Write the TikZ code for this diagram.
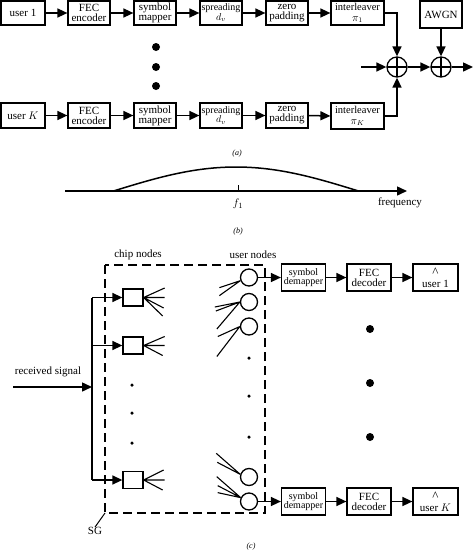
\documentclass[tikz,border=0pt]{standalone}
\usepackage{fontspec}
\setmainfont{Liberation Serif}
\usetikzlibrary{arrows.meta,calc}

\begin{document}
\begin{tikzpicture}[x=1pt,y=-1pt,
        blk/.style={draw,line width=1.2pt,inner sep=0pt,minimum width=42pt,minimum height=24pt,align=center,font=\fontsize{11}{10}\selectfont},
        sblk/.style={blk,font=\fontsize{10}{9.5}\selectfont},
        iblk/.style={blk,font=\fontsize{10.5}{11}\selectfont,minimum width=53pt},
        hblk/.style={blk,font=\fontsize{11}{11}\selectfont,minimum width=45pt,minimum height=27pt},
        wire/.style={line width=1.5pt,-{Triangle[length=10pt,width=9pt]}},
        plainwire/.style={line width=1.5pt},
        fanline/.style={line width=1.1pt},
        adder/.style={circle,draw,line width=1.3pt,minimum size=20pt,inner sep=0pt,
            path picture={\draw[line width=1.1pt] (path picture bounding box.north) -- (path picture bounding box.south)
                (path picture bounding box.west) -- (path picture bounding box.east);}},
        bigdot/.style={circle,fill,inner sep=0pt,minimum size=8pt},
        smalldot/.style={circle,fill,inner sep=0pt,minimum size=3.5pt},
        unode/.style={circle,draw,line width=1.3pt,minimum size=17pt,inner sep=0pt},
        cnode/.style={draw,line width=1.3pt,minimum width=20pt,minimum height=17pt,inner sep=0pt},
        sublabel/.style={font=\fontsize{8}{9}\selectfont\itshape,inner sep=0pt},
        txt/.style={font=\fontsize{11}{12}\selectfont,inner sep=0pt}]
    \useasboundingbox (0,0) rectangle (474,552);
    % (a) transmitter
    \node[blk,minimum width=44pt] (u1) at (23,13) {user 1};
    \node[blk] (enc1) at (89,13) {FEC\\encoder};
    \node[blk] (map1) at (155,13) {symbol\\mapper};
    \node[sblk] (spr1) at (221,13) {spreading\\$d_v$};
    \node[blk] (zp1) at (287,13) {zero\\padding};
    \node[iblk] (int1) at (357.5,13) {interleaver\\$\pi_1$};
    \node[blk,minimum width=44pt,minimum height=25pt] (uK) at (23,115.5) {user $K$};
    \node[blk,minimum height=25pt] (encK) at (89,115.5) {FEC\\encoder};
    \node[blk,minimum height=25pt] (mapK) at (155,115.5) {symbol\\mapper};
    \node[sblk,minimum height=25pt] (sprK) at (221,115.5) {spreading\\$d_v$};
    \node[blk,minimum height=25pt] (zpK) at (287,115.5) {zero\\padding};
    \node[iblk,minimum height=26pt] (intK) at (357.5,116) {interleaver\\$\pi_K$};
    \node[bigdot] (vd1) at (156,47) {};
    \node[bigdot] (vd2) at (156,67) {};
    \node[bigdot] (vd3) at (156,86) {};
    \node[adder] (add1) at (397,67) {};
    \node[adder] (add2) at (441,67) {};
    \node[blk,minimum height=27pt] (awgn) at (441,14.5) {AWGN};
    \coordinate (ain) at (361,67);
    \coordinate (aout) at (473,67);
    \draw[wire] (u1.east) -- (enc1.west);
    \draw[wire] (enc1.east) -- (map1.west);
    \draw[wire] (map1.east) -- (spr1.west);
    \draw[wire] (spr1.east) -- (zp1.west);
    \draw[wire] (zp1.east) -- (int1.west);
    \draw[wire] (uK.east) -- (encK.west);
    \draw[wire] (encK.east) -- (mapK.west);
    \draw[wire] (mapK.east) -- (sprK.west);
    \draw[wire] (sprK.east) -- (zpK.west);
    \draw[wire] (zpK.east) -- (intK.west);
    \draw[wire] (int1.east) -| (add1.north);
    \draw[wire] (intK.east) -| (add1.south);
    \draw[wire] (ain) -- (add1.west);
    \draw[wire] (add1.east) -- (add2.west);
    \draw[wire] (awgn.south) -- (add2.north);
    \draw[wire] (add2.east) -- (aout);
    \node[sublabel] (capa) at (237,154) {(a)};
    % (b) spectrum
    \coordinate (f0) at (65,191);
    \coordinate (fend) at (407,191);
    \coordinate (ftick) at (238,185);
    \draw[wire] (f0) -- (fend);
    \draw[plainwire] plot[domain=-90:90,samples=50] ({236+122.5*\x/90},{191-24*cos(\x)});
    \draw[line width=1pt] (ftick) -- (ftick |- f0);
    \node[txt] (fone) at (238,204) {$f_1$};
    \node[txt] (freq) at (400,203) {frequency};
    \node[sublabel] (capb) at (238,232) {(b)};
    % (c) receiver
    \node[txt] (chiplab) at (138,255) {chip nodes};
    \node[txt] (userlab) at (253,255) {user nodes};
    \coordinate (sgtl) at (105,265);
    \coordinate (sgbr) at (265,513);
    \draw[line width=1.3pt,dash pattern=on 9pt off 5pt] (sgtl) rectangle (sgbr);
    \node[txt] (sg) at (95,531) {SG};
    \draw[line width=1pt] (sgtl |- sgbr) -- (sg.north);
    \node[cnode] (c1) at (133,297.5) {};
    \node[cnode] (c2) at (133,345.5) {};
    \node[cnode] (c3) at (133,480) {};
    \node[smalldot] (cd1) at (132,385) {};
    \node[smalldot] (cd2) at (132,413) {};
    \node[smalldot] (cd3) at (132,443) {};
    \coordinate (rs) at (13,387);
    \coordinate (bt) at (92,297.5);
    \coordinate (bb) at (92,480);
    \node[txt] (rslab) at (48,372) {received signal};
    \draw[plainwire] (bt) -- (bb);
    \draw[wire] (bt) -- (c1.west);
    \draw[wire] (c2.west -| bt) -- (c2.west);
    \draw[wire] (bb) -- (c3.west);
    \draw[wire] (rs) -- (rs -| bt);
    \draw[fanline] (c1.east) -- ++(21,-9.5) (c1.east) -- ++(21,0) (c1.east) -- ++(20,10.5) (c1.east) -- ++(19,18.5);
    \draw[fanline] (c2.east) -- ++(21,-9) (c2.east) -- ++(21,0) (c2.east) -- ++(19,10);
    \draw[fanline] (c3.east) -- ++(20,-10) (c3.east) -- ++(21,0) (c3.east) -- ++(19,10);
    \node[unode] (n1) at (249,277.5) {};
    \node[unode] (n2) at (249,302) {};
    \node[unode] (n3) at (249,326.5) {};
    \node[unode] (n4) at (249,477) {};
    \node[unode] (n5) at (249,501.5) {};
    \node[smalldot] (nd1) at (249,358) {};
    \node[smalldot] (nd2) at (249,396) {};
    \node[smalldot] (nd3) at (249,437) {};
    \draw[fanline] (n1.200) -- ++(-21,7) (n1.200) -- ++(-21,15);
    \draw[fanline] (n2.west) -- ++(-25,5) (n2.west) -- ++(-24,9) (n2.west) -- ++(-23,27);
    \draw[fanline] (n3.west) -- ++(-22,10) (n3.west) -- ++(-23,30);
    \draw[fanline] (n4.163) -- ++(-24,-21) (n4.163) -- ++(-23,-12);
    \draw[fanline] (n5.155) -- ++(-24,-21) (n5.155) -- ++(-23,-12) (n5.155) -- ++(-23,-5);
    \node[sblk,minimum width=44pt,minimum height=27pt] (dem1) at (303.5,277.5) {symbol\\demapper};
    \node[blk,minimum width=44pt,minimum height=27pt] (dec1) at (369,277.5) {FEC\\decoder};
    \node[hblk] (hat1) at (435.5,277.5) {{\fontsize{13}{11}\selectfont\^{}}\\user 1};
    \node[sblk,minimum width=44pt,minimum height=27pt] (demK) at (303.5,501.5) {symbol\\demapper};
    \node[blk,minimum width=44pt,minimum height=27pt] (decK) at (369,501.5) {FEC\\decoder};
    \node[hblk] (hatK) at (435.5,501.5) {{\fontsize{13}{11}\selectfont\^{}}\\user $K$};
    \node[bigdot] (rd1) at (370,329) {};
    \node[bigdot] (rd2) at (370,383) {};
    \node[bigdot] (rd3) at (370,437) {};
    \draw[wire] (n1.east) -- (dem1.west);
    \draw[wire] (dem1.east) -- (dec1.west);
    \draw[wire] (dec1.east) -- (hat1.west);
    \draw[wire] (n5.east) -- (demK.west);
    \draw[wire] (demK.east) -- (decK.west);
    \draw[wire] (decK.east) -- (hatK.west);
    \node[sublabel] (capc) at (251,547) {(c)};
\end{tikzpicture}
\end{document}
